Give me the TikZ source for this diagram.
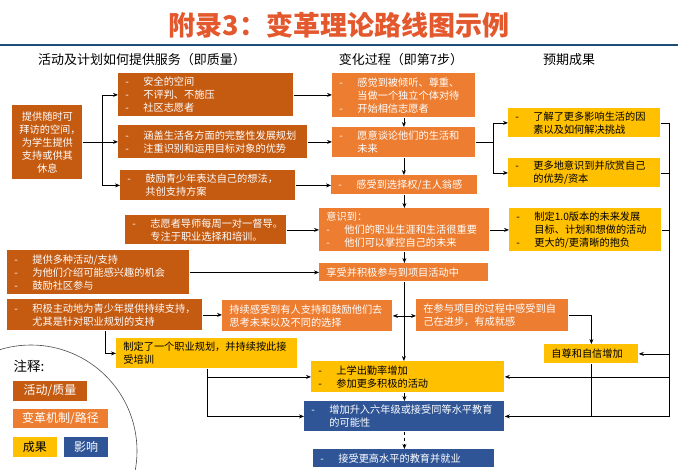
\documentclass[tikz,border=0pt]{standalone}
\usepackage{fontspec}
\setmainfont{Noto Sans CJK SC}
\usepackage{xcolor}
\usetikzlibrary{arrows.meta,calc}

\definecolor{qualc}{RGB}{197,90,17}
\definecolor{mechc}{RGB}{237,125,49}
\definecolor{outcc}{RGB}{255,192,0}
\definecolor{impc}{RGB}{47,85,151}
\definecolor{titlec}{RGB}{228,88,46}
\definecolor{rulec}{RGB}{31,78,121}
\newcommand\dd{\makebox[18pt][l]{-}}
\newcommand\ind{\hspace*{18pt}}

\begin{document}
\begin{tikzpicture}[x=1pt,y=-1pt,>={Stealth[length=5pt,width=4pt]},line width=0.8pt,
  txt/.style={font=\fontsize{10.2}{13}\selectfont,align=left,inner xsep=7pt,inner ysep=1pt,anchor=north west},
  wh/.style 2 args={text width=#1pt-14pt,minimum height=#2pt},
  qual/.style={txt,fill=qualc,text=white},
  mech/.style={txt,fill=mechc,text=white},
  outc/.style={txt,fill=outcc,text=black},
  imp/.style={txt,fill=impc,text=white},
  head/.style={font=\fontsize{13}{15}\selectfont},
  key/.style={font=\fontsize{12}{14}\selectfont,inner sep=0pt}]
\fill[white] (0,0) rectangle (678,469);
\useasboundingbox (0,0) rectangle (678,469);
\node[font=\fontsize{27}{30}\selectfont\bfseries,text=titlec] (ttl) at (339,25) {附录3：变革理论路线图示例};
\draw[rulec,line width=1.5pt] (0,45) -- (678,45);
\node[head] (h1) at (142,60) {活动及计划如何提供服务（即质量）};
\node[head] (h2) at (401,60) {变化过程（即第7步）};
\node[head] (h3) at (569,60) {预期成果};

% legend
\begin{scope}
\clip (0,0) rectangle (678,469);
\draw[black!70,line width=0.6pt] (31,451) circle[radius=106pt];
\end{scope}
\node[font=\fontsize{13.5}{15}\selectfont,anchor=west] (note) at (10,366) {注释:};
\node[key,fill=qualc,text=white,minimum width=74pt,minimum height=20pt] (kq) at (50,391) {活动/质量};
\node[key,fill=mechc,text=white,minimum width=95pt,minimum height=19pt] (km) at (60.5,418.5) {变革机制/路径};
\node[key,fill=outcc,minimum width=44pt,minimum height=20pt] (ko) at (35,447) {成果};
\node[key,fill=impc,text=white,minimum width=44pt,minimum height=20pt] (ki) at (86,447) {影响};

% activities / quality
\node[qual,align=center,text width=56pt,minimum height=74pt] (lft) at (12,105) {提供随时可\\拜访的空间，\\为学生提供\\支持或供其\\休息};
\node[qual,wh={175}{43}] (a1) at (118,73) {\dd 安全的空间\\\dd 不评判、不施压\\\dd 社区志愿者};
\node[qual,wh={189}{33}] (a2) at (118,125) {\dd 涵盖生活各方面的完整性发展规划\\\dd 注重识别和运用目标对象的优势};
\node[qual,wh={175}{30}] (a3) at (120,170) {\dd 鼓励青少年表达自己的想法，\\\ind 共创支持方案};
\node[qual,wh={161}{29}] (a4) at (125,215) {\dd 志愿者导师每周一对一督导。\\\ind 专注于职业选择和培训。};
\node[qual,wh={182}{44}] (a5) at (7,250) {\dd 提供多种活动/支持\\\dd 为他们介绍可能感兴趣的机会\\\dd 鼓励社区参与};
\node[qual,wh={195}{31}] (a6) at (7,299) {\dd 积极主动地为青少年提供持续支持，\\\ind 尤其是针对职业规划的支持};

% mechanisms
\node[mech,wh={143}{44}] (m1) at (332,73) {\dd 感觉到被倾听、尊重、\\\ind 当做一个独立个体对待\\\dd 开始相信志愿者};
\node[mech,wh={143}{30}] (m2) at (332,127) {\dd 愿意谈论他们的生活和\\\ind 未来};
\node[mech,wh={146}{19}] (m3) at (331,175) {\dd 感受到选择权/主人翁感};
\node[mech,wh={170}{43}] (m4) at (319,208) {意识到：\\\dd 他们的职业生涯和生活很重要\\\dd 他们可以掌控自己的未来};
\node[mech,wh={169}{18}] (m5) at (319,263) {享受并积极参与到项目活动中};
\node[mech,wh={170}{31}] (m6) at (222,300) {持续感受到有人支持和鼓励他们去\\思考未来以及不同的选择};
\node[mech,wh={152}{32}] (m7) at (416,299) {在参与项目的过程中感受到自\\己在进步，有成就感};

% outcomes / impact
\node[outc,wh={152}{29}] (y1) at (508,108) {\dd 了解了更多影响生活的因\\\ind 素以及如何解决挑战};
\node[outc,wh={152}{29}] (y2) at (508,158) {\dd 更多地意识到并欣赏自己\\\ind 的优势/资本};
\node[outc,wh={152}{43}] (y3) at (509,208) {\dd 制定1.0版本的未来发展\\\ind 目标、计划和想做的活动\\\dd 更大的/更清晰的抱负};
\node[outc,wh={94}{19}] (y4) at (544,344) {自尊和自信增加};
\node[outc,wh={193}{31}] (y5) at (311,361) {\dd 上学出勤率增加\\\dd 参加更多积极的活动};
\node[outc,wh={181}{30}] (y6) at (116,338) {制定了一个职业规划，并持续按此接\\受培训};
\node[imp,wh={200}{30}] (b1) at (304,401) {\dd 增加升入六年级或接受同等水平教育\\\ind 的可能性};
\node[imp,wh={181}{18}] (b2) at (313,449) {\dd 接受更高水平的教育并就业};

% connectors
\foreach \t in {a1,a2,a3}
  \draw[->] (lft.east) -- ++(20,0) |- (\t.west);
\foreach \s/\t in {a1/m1,a2/m2,a3/m3,a4/m4,a5/m5,a6/m6,m4/y3}
  \draw[->] (\s.east) -- (\s.east -| \t.west);
\foreach \s/\t in {m1/m2,m2/m3,m3/m4,m4/m5}
  \draw[->] (\s.south) -- (\s.south |- \t.north);
\foreach \t in {y1,y2}
  \draw[->] (m2.east) -- ++(18,0) |- (\t.west);
\draw[->] (m5.south) -- (m5.south |- y5.north);
\draw[<->] (m6.east) -- (m6.east -| m7.west);
\draw[->] (m7.east) -| (y4.north);
\draw (y1.east) -- ++(9,0) coordinate (rt);
\draw (y2.east) -- (y2.east -| rt);
\draw (y3.east) -- (y3.east -| rt);
\draw (rt) -- (rt |- b1.east) coordinate (rb);
\draw[->] (rb) -- (b1.east);
\draw (y4.south) -- (y4.south |- b1.east);
\foreach \t in {y4,y5}
  \draw[->] (rt |- \t.east) -- (\t.east);
\draw[->] (b1.north |- y5.south) -- (b1.north);
\draw[->,dashed] (b1.south) -- (b1.south |- b2.north);
\draw[->] (a6.south) |- (y6.west);
\draw[->] (y6.south) |- (b1.west);
\draw[->] (y6.south |- y5.west) -- (y5.west);
\end{tikzpicture}
\end{document}
